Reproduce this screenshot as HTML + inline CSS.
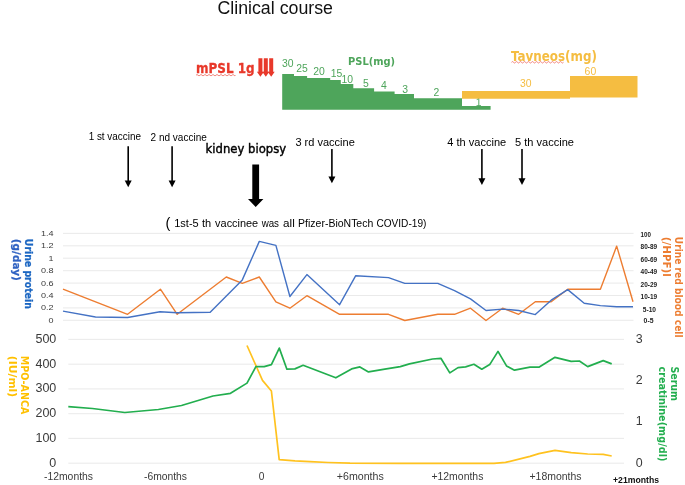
<!DOCTYPE html>
<html lang="en"><head><meta charset="utf-8"><title>Clinical course</title>
<style>
html,body{margin:0;padding:0;background:#fff;}
body{width:685px;height:485px;overflow:hidden;font-family:"Liberation Sans",sans-serif;}
svg{display:block;}
text{font-family:"Liberation Sans",sans-serif;}
.cal{font-family:"Liberation Sans",sans-serif;}
.vb{font-family:"DejaVu Sans","Liberation Sans",sans-serif;font-weight:bold;}
</style></head><body>
<svg width="685" height="485" viewBox="0 0 685 485">
<rect width="685" height="485" fill="#fff"/>

<line x1="63" x2="633.5" y1="320.3" y2="320.3" stroke="#e4e4e4" stroke-width="0.8"/>
<line x1="63" x2="633.5" y1="307.9" y2="307.9" stroke="#e4e4e4" stroke-width="0.8"/>
<line x1="63" x2="633.5" y1="295.5" y2="295.5" stroke="#e4e4e4" stroke-width="0.8"/>
<line x1="63" x2="633.5" y1="283.1" y2="283.1" stroke="#e4e4e4" stroke-width="0.8"/>
<line x1="63" x2="633.5" y1="270.7" y2="270.7" stroke="#e4e4e4" stroke-width="0.8"/>
<line x1="63" x2="633.5" y1="258.2" y2="258.2" stroke="#e4e4e4" stroke-width="0.8"/>
<line x1="63" x2="633.5" y1="245.8" y2="245.8" stroke="#e4e4e4" stroke-width="0.8"/>
<line x1="63" x2="633.5" y1="233.4" y2="233.4" stroke="#e4e4e4" stroke-width="0.8"/>
<line x1="68.3" x2="624" y1="463.2" y2="463.2" stroke="#e4e4e4" stroke-width="0.8"/>
<line x1="68.3" x2="624" y1="438.4" y2="438.4" stroke="#e4e4e4" stroke-width="0.8"/>
<line x1="68.3" x2="624" y1="413.7" y2="413.7" stroke="#e4e4e4" stroke-width="0.8"/>
<line x1="68.3" x2="624" y1="388.9" y2="388.9" stroke="#e4e4e4" stroke-width="0.8"/>
<line x1="68.3" x2="624" y1="364.2" y2="364.2" stroke="#e4e4e4" stroke-width="0.8"/>
<line x1="68.3" x2="624" y1="339.4" y2="339.4" stroke="#e4e4e4" stroke-width="0.8"/>
<text x="48.6" y="322.7" font-size="7.2" fill="#3a3a3a" textLength="5" lengthAdjust="spacingAndGlyphs">0</text>
<text x="41.0" y="310.3" font-size="7.2" fill="#3a3a3a" textLength="12.6" lengthAdjust="spacingAndGlyphs">0.2</text>
<text x="41.0" y="297.9" font-size="7.2" fill="#3a3a3a" textLength="12.6" lengthAdjust="spacingAndGlyphs">0.4</text>
<text x="41.0" y="285.5" font-size="7.2" fill="#3a3a3a" textLength="12.6" lengthAdjust="spacingAndGlyphs">0.6</text>
<text x="41.0" y="273.1" font-size="7.2" fill="#3a3a3a" textLength="12.6" lengthAdjust="spacingAndGlyphs">0.8</text>
<text x="48.6" y="260.7" font-size="7.2" fill="#3a3a3a" textLength="5" lengthAdjust="spacingAndGlyphs">1</text>
<text x="41.0" y="248.3" font-size="7.2" fill="#3a3a3a" textLength="12.6" lengthAdjust="spacingAndGlyphs">1.2</text>
<text x="41.0" y="235.9" font-size="7.2" fill="#3a3a3a" textLength="12.6" lengthAdjust="spacingAndGlyphs">1.4</text>
<text x="643.6" y="323.3" font-size="6.4" fill="#222" font-weight="bold" textLength="9.9" lengthAdjust="spacingAndGlyphs">0-5</text>
<text x="642.8" y="311.5" font-size="6.4" fill="#222" font-weight="bold" textLength="13.2" lengthAdjust="spacingAndGlyphs">5-10</text>
<text x="640.6" y="299.1" font-size="6.4" fill="#222" font-weight="bold" textLength="16.6" lengthAdjust="spacingAndGlyphs">10-19</text>
<text x="640.6" y="286.7" font-size="6.4" fill="#222" font-weight="bold" textLength="16.6" lengthAdjust="spacingAndGlyphs">20-29</text>
<text x="640.6" y="273.6" font-size="6.4" fill="#222" font-weight="bold" textLength="16.6" lengthAdjust="spacingAndGlyphs">40-49</text>
<text x="640.6" y="261.5" font-size="6.4" fill="#222" font-weight="bold" textLength="16.6" lengthAdjust="spacingAndGlyphs">60-69</text>
<text x="640.6" y="249.1" font-size="6.4" fill="#222" font-weight="bold" textLength="16.6" lengthAdjust="spacingAndGlyphs">80-89</text>
<text x="640.6" y="237.2" font-size="6.4" fill="#222" font-weight="bold" textLength="10.4" lengthAdjust="spacingAndGlyphs">100</text>
<text x="56.3" y="466.5" font-size="12.5" fill="#3a3a3a" text-anchor="end">0</text>
<text x="56.3" y="441.7" font-size="12.5" fill="#3a3a3a" text-anchor="end">100</text>
<text x="56.3" y="417.0" font-size="12.5" fill="#3a3a3a" text-anchor="end">200</text>
<text x="56.3" y="392.2" font-size="12.5" fill="#3a3a3a" text-anchor="end">300</text>
<text x="56.3" y="367.5" font-size="12.5" fill="#3a3a3a" text-anchor="end">400</text>
<text x="56.3" y="342.7" font-size="12.5" fill="#3a3a3a" text-anchor="end">500</text>
<text x="635.8" y="466.7" font-size="12.4" fill="#3a3a3a">0</text>
<text x="635.8" y="425.3" font-size="12.4" fill="#3a3a3a">1</text>
<text x="635.8" y="384.0" font-size="12.4" fill="#3a3a3a">2</text>
<text x="635.8" y="342.6" font-size="12.4" fill="#3a3a3a">3</text>
<text x="44" y="480.3" font-size="10.2" fill="#3a3a3a" textLength="49" lengthAdjust="spacingAndGlyphs">-12months</text>
<text x="144" y="480.3" font-size="10.2" fill="#3a3a3a" textLength="43" lengthAdjust="spacingAndGlyphs">-6months</text>
<text x="336.8" y="480.3" font-size="10.2" fill="#3a3a3a" textLength="47" lengthAdjust="spacingAndGlyphs">+6months</text>
<text x="431.4" y="480.3" font-size="10.2" fill="#3a3a3a" textLength="52" lengthAdjust="spacingAndGlyphs">+12months</text>
<text x="529.5" y="480.3" font-size="10.2" fill="#3a3a3a" textLength="52" lengthAdjust="spacingAndGlyphs">+18months</text>
<text x="261.7" y="480.3" font-size="10.2" fill="#3a3a3a" text-anchor="middle">0</text>
<text x="613" y="483" font-size="9.8" fill="#111" font-weight="bold" textLength="46" lengthAdjust="spacingAndGlyphs">+21months</text>
<polyline points="63.0,289.2 127.6,314.3 160.4,289.2 177.2,314.3 226.3,277.0 242.3,283.4 259.3,277.0 275.9,301.8 289.9,308.2 306.9,295.7 339.6,314.3 388.5,314.3 404.8,320.5 437.8,314.3 454.5,314.3 470.5,308.2 486.0,320.5 502.6,308.2 518.7,314.3 535.3,301.8 551.2,301.8 567.7,289.3 600.4,289.3 616.7,246.1 633.0,301.7" fill="none" stroke="#ED7D31" stroke-width="1.4" stroke-linejoin="round"/>
<polyline points="63.0,311.1 95.5,317.0 127.6,317.5 160.0,311.7 177.2,312.7 210.2,312.2 242.3,279.9 259.3,241.4 275.9,245.4 289.9,296.5 306.9,274.6 339.6,304.7 355.6,275.8 388.5,277.6 404.8,283.4 437.8,283.4 454.5,290.7 470.5,298.9 486.0,310.5 502.6,309.1 518.7,310.5 535.3,314.6 551.2,300.2 567.7,289.6 584.2,303.3 600.4,305.6 616.7,306.7 633.0,306.7" fill="none" stroke="#4472C4" stroke-width="1.4" stroke-linejoin="round"/>
<polyline points="247.0,345.5 262.5,380.4 271.4,391.0 279.2,459.6 295.0,460.9 310.0,461.7 328.0,462.5 350.0,463.1 400.0,463.3 494.0,463.3 505.5,462.4 530.0,456.4 538.9,453.6 555.0,450.3 571.2,452.7 587.7,454.0 603.2,454.4 611.7,456.0" fill="none" stroke="#FFC21F" stroke-width="1.7" stroke-linejoin="round"/>
<polyline points="68.3,406.6 92.4,408.5 124.8,412.5 158.4,409.5 181.5,405.5 213.0,396.0 230.5,393.3 247.0,383.1 255.9,366.6 264.2,366.6 271.4,364.6 279.3,348.1 286.9,369.2 294.9,368.9 303.1,365.3 335.8,377.8 351.6,368.9 359.9,366.9 368.5,371.9 384.8,369.2 400.3,366.6 409.5,363.9 432.6,359.0 440.9,358.3 449.8,372.9 458.0,367.6 465.6,366.9 473.9,364.3 481.8,369.2 489.7,364.6 498.0,351.4 506.5,365.9 514.5,370.2 530.0,367.2 538.9,367.2 555.0,357.3 571.2,361.3 579.4,361.0 587.7,366.6 603.2,360.6 611.7,363.9" fill="none" stroke="#22AE4E" stroke-width="1.7" stroke-linejoin="round"/>
<text class="vb" transform="translate(24.9,238.8) rotate(90)" font-size="10.7" fill="#1B66C2" stroke="#1B66C2" stroke-width="0.25" textLength="70" lengthAdjust="spacingAndGlyphs">Urine protein</text>
<text class="vb" transform="translate(13.2,238.8) rotate(90)" font-size="10.7" fill="#2F62C2" stroke="#2F62C2" stroke-width="0.25" textLength="42" lengthAdjust="spacingAndGlyphs">(g/day)</text>
<text class="vb" transform="translate(21,355.8) rotate(90)" font-size="11.2" fill="#FFC000" textLength="58.5" lengthAdjust="spacingAndGlyphs">MPO-ANCA</text>
<text class="vb" transform="translate(8.9,355.8) rotate(90)" font-size="11.2" fill="#FFC000" textLength="41.4" lengthAdjust="spacingAndGlyphs">(IU/ml)</text>
<text class="vb" transform="translate(675,236.8) rotate(90)" font-size="10" fill="#ED7D31" textLength="100.8" lengthAdjust="spacingAndGlyphs">Urine red blood cell</text>
<text class="vb" transform="translate(662.5,236.8) rotate(90)" font-size="10" fill="#ED7D31" textLength="40" lengthAdjust="spacingAndGlyphs">(/HPF)l</text>
<text class="vb" transform="translate(670.6,366.4) rotate(90)" font-size="10.4" fill="#22AE4E" textLength="34.6" lengthAdjust="spacingAndGlyphs">Serum</text>
<text class="vb" transform="translate(659,366.4) rotate(90)" font-size="10.4" fill="#22AE4E" textLength="95" lengthAdjust="spacingAndGlyphs">creatinine(mg/dl)</text>
<text x="217.4" y="13.7" font-size="18.7" fill="#111" textLength="115.6" lengthAdjust="spacingAndGlyphs">Clinical course</text>
<text class="vb" x="196" y="72.8" font-size="13.6" fill="#E8382A" stroke="#E8382A" stroke-width="0.3" textLength="58.6" lengthAdjust="spacingAndGlyphs">mPSL 1g</text>
<path d="M196 75.2 q1 -1.4 2 0 t2 0 t2 0 t2 0 t2 0 t2 0 t2 0 t2 0 t2 0 t2 0 t2 0 t2 0 t2 0 t2 0 t2 0 t2 0 t2 0 t2 0 t2 0 t1.5 0" fill="none" stroke="#E8382A" stroke-width="0.6"/>
<path d="M258.4 58.2 h4 v13.6 h1.5 l-3.5 4.9 l-3.5 -4.9 h1.5 z" fill="#E8382A"/>
<path d="M263.8 58.2 h4 v13.6 h1.5 l-3.5 4.9 l-3.5 -4.9 h1.5 z" fill="#E8382A"/>
<path d="M269.2 58.2 h4 v13.6 h1.5 l-3.5 4.9 l-3.5 -4.9 h1.5 z" fill="#E8382A"/>
<path d="M282.2 109.4 V73.9 H294 V76 H307.1 V78 H330.2 V80 H340.8 V84.1 H353.3 V88.2 H374.1 V91.5 H394.6 V94.1 H414 V98.2 H462 V106 H490.6 V109.8 H282.2 z" fill="#4EA55B"/>
<text x="287.8" y="67" font-size="10.4" fill="#4EA55B" text-anchor="middle">30</text>
<text x="302" y="71.6" font-size="10.4" fill="#4EA55B" text-anchor="middle">25</text>
<text x="319" y="74.8" font-size="10.4" fill="#4EA55B" text-anchor="middle">20</text>
<text x="336.5" y="76.6" font-size="10.4" fill="#4EA55B" text-anchor="middle">15</text>
<text x="347.3" y="82.6" font-size="10.4" fill="#4EA55B" text-anchor="middle">10</text>
<text x="365.9" y="87" font-size="10.4" fill="#4EA55B" text-anchor="middle">5</text>
<text x="384" y="89.3" font-size="10.4" fill="#4EA55B" text-anchor="middle">4</text>
<text x="405.2" y="92.6" font-size="10.4" fill="#4EA55B" text-anchor="middle">3</text>
<text x="436.5" y="96.3" font-size="10.4" fill="#4EA55B" text-anchor="middle">2</text>
<text x="478.7" y="105.9" font-size="10.4" fill="#4EA55B" text-anchor="middle">1</text>
<text class="vb" x="348.1" y="64.8" font-size="10.5" fill="#4EA55B" textLength="47" lengthAdjust="spacingAndGlyphs">PSL(mg)</text>
<path d="M462 98.7 V91 H570 V76.1 H637.5 V97.6 H570 V98.7 z" fill="#F5BD41"/>
<text class="vb" x="510.9" y="61" font-size="13.4" fill="#F5BD41" textLength="86" lengthAdjust="spacingAndGlyphs">Tavneos(mg)</text>
<path d="M511.5 62.3 q1 -1.4 2 0 t2 0 t2 0 t2 0 t2 0 t2 0 t2 0 t2 0 t2 0 t2 0 t2 0 t2 0 t2 0 t2 0 t2 0 t2 0 t2 0 t2 0 t2 0 t2 0 t2 0 t2 0 t2 0 t2 0 t2 0 t2 0" fill="none" stroke="#E8382A" stroke-width="0.6"/>
<text x="525.8" y="86.6" font-size="10.4" fill="#F5BD41" text-anchor="middle">30</text>
<text x="590.4" y="75" font-size="10.4" fill="#F5BD41" text-anchor="middle">60</text>
<text class="cal" x="88.7" y="139.6" font-size="10.8" fill="#000" textLength="52.2" lengthAdjust="spacingAndGlyphs">1 st vaccine</text>
<text class="cal" x="150.6" y="140.5" font-size="10.8" fill="#000" textLength="56.2" lengthAdjust="spacingAndGlyphs">2 nd vaccine</text>
<text class="cal" x="295.4" y="145.5" font-size="10.8" fill="#000" textLength="59.4" lengthAdjust="spacingAndGlyphs">3 rd vaccine</text>
<text class="cal" x="447.3" y="146" font-size="10.8" fill="#000" textLength="58.9" lengthAdjust="spacingAndGlyphs">4 th vaccine</text>
<text class="cal" x="515" y="146" font-size="10.8" fill="#000" textLength="59" lengthAdjust="spacingAndGlyphs">5 th vaccine</text>
<text x="205.6" y="152.9" font-size="12.1" fill="#000" stroke="#000" stroke-width="0.4" textLength="80.5" lengthAdjust="spacingAndGlyphs" style="font-family:'DejaVu Sans','Liberation Sans',sans-serif">kidney biopsy</text>
<path d="M128.2 146.2 V182.2" stroke="#000" stroke-width="1.6" fill="none"/>
<path d="M124.69999999999999 180.39999999999998 L128.2 187.2 L131.7 180.39999999999998 z" fill="#000"/>
<path d="M172.1 146.2 V182.2" stroke="#000" stroke-width="1.6" fill="none"/>
<path d="M168.6 180.39999999999998 L172.1 187.2 L175.6 180.39999999999998 z" fill="#000"/>
<path d="M331.9 149 V178.2" stroke="#000" stroke-width="1.6" fill="none"/>
<path d="M328.4 176.39999999999998 L331.9 183.2 L335.4 176.39999999999998 z" fill="#000"/>
<path d="M481.9 149 V180" stroke="#000" stroke-width="1.6" fill="none"/>
<path d="M478.4 178.2 L481.9 185 L485.4 178.2 z" fill="#000"/>
<path d="M522 149 V180" stroke="#000" stroke-width="1.6" fill="none"/>
<path d="M518.5 178.2 L522 185 L525.5 178.2 z" fill="#000"/>
<path d="M252.3 164.4 h6.8 v34.5 h4.3 l-7.7 8 l-7.7 -8 h4.3 z" fill="#000"/>
<text class="cal" x="165.6" y="227.6" font-size="14.5" fill="#000">(</text>
<text class="cal" x="174.2" y="227.2" font-size="11.3" fill="#000" textLength="24.5" lengthAdjust="spacingAndGlyphs">1st-5</text>
<text class="cal" x="202.0" y="227.2" font-size="11.3" fill="#000" textLength="9.2" lengthAdjust="spacingAndGlyphs">th</text>
<text class="cal" x="215.1" y="227.2" font-size="11.3" fill="#000" textLength="43.1" lengthAdjust="spacingAndGlyphs">vaccinee</text>
<text class="cal" x="261.7" y="227.2" font-size="11.3" fill="#000" textLength="17.3" lengthAdjust="spacingAndGlyphs">was</text>
<text class="cal" x="283.1" y="227.2" font-size="11.3" fill="#000" textLength="11.7" lengthAdjust="spacingAndGlyphs">all</text>
<text class="cal" x="298.1" y="227.2" font-size="11.3" fill="#000" textLength="75.2" lengthAdjust="spacingAndGlyphs">Pfizer-BioNTech</text>
<text class="cal" x="376.4" y="227.2" font-size="11.3" fill="#000" textLength="50.0" lengthAdjust="spacingAndGlyphs">COVID-19)</text>
</svg></body></html>
